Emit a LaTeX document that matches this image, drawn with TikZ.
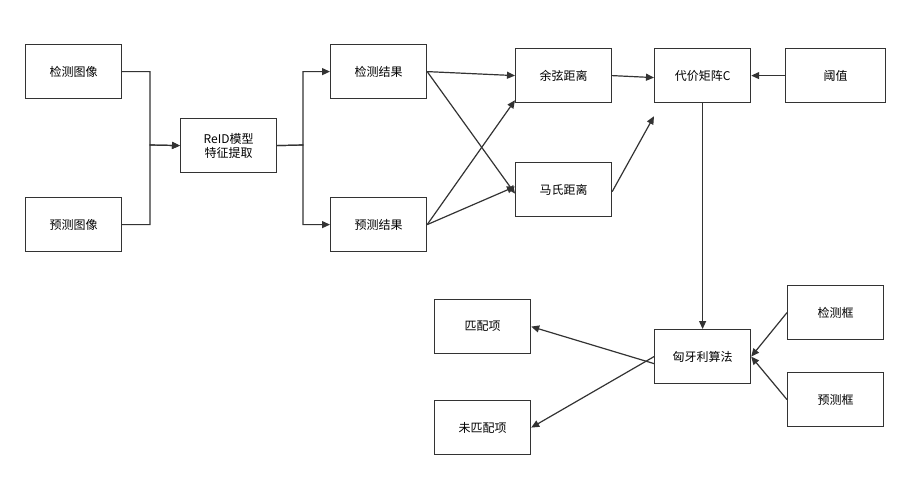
\documentclass[tikz,border=0pt]{standalone}
\usepackage{fontspec}
\setmainfont{Noto Sans CJK SC}
\usetikzlibrary{arrows.meta}
\begin{document}
\begin{tikzpicture}[x=1pt,y=-1pt,
 bx/.style={draw=black!80,line width=1.2pt,minimum width=96pt,minimum height=54pt,inner sep=0pt,align=center,font=\fontsize{12}{14}\selectfont,anchor=north west},
 ar/.style={draw=black!80,line width=1.2pt,-{Triangle[length=8pt,width=7pt]}}]
\useasboundingbox (0,0) rectangle (910,480);
\node[bx] (a) at (25,44) {检测图像};
\node[bx] (b) at (25,197) {预测图像};
\node[bx] (r) at (180,118) {ReID模型\\特征提取};
\node[bx] (d) at (330,44) {检测结果};
\node[bx] (p) at (330,197) {预测结果};
\node[bx] (c) at (515,48) {余弦距离};
\node[bx] (m) at (515,162) {马氏距离};
\node[bx] (k) at (654,48) {代价矩阵C};
\node[bx,minimum width=100pt] (t) at (785,48) {阈值};
\node[bx] (h) at (654,329) {匈牙利算法};
\node[bx] (dk) at (787,285) {检测框};
\node[bx] (pk) at (787,372) {预测框};
\node[bx] (mi) at (434,299) {匹配项};
\node[bx] (um) at (434,400) {未匹配项};
\draw[ar] (a.east) -| (150,145) -- (r.west);
\draw[ar] (b.east) -| (150,145) -- (r.west);
\draw[ar] (r.east) -- (303,145) |- (d.west);
\draw[ar] (r.east) -- (303,145) |- (p.west);
\draw[ar] (d.east) -- (c.west);
\draw[ar] (d.east) -- ([yshift=-4pt]m.west);
\draw[ar] (p.east) -- ([yshift=3pt]c.south west);
\draw[ar] (p.east) -- ([yshift=3pt]m.west);
\draw[ar] (c.east) -- ([yshift=-2pt]k.west);
\draw[ar] ([yshift=-2pt]m.east) -- ([yshift=-13pt]k.south west);
\draw[ar] (t.west) -- (k.east);
\draw[ar] (k.south) -- (h.north);
\draw[ar] (dk.west) -- (h.east);
\draw[ar] (pk.west) -- (h.east);
\draw[ar] ([yshift=-7pt]h.west) -- (mi.east);
\draw[ar] (h.west) -- (um.east);
\end{tikzpicture}
\end{document}
